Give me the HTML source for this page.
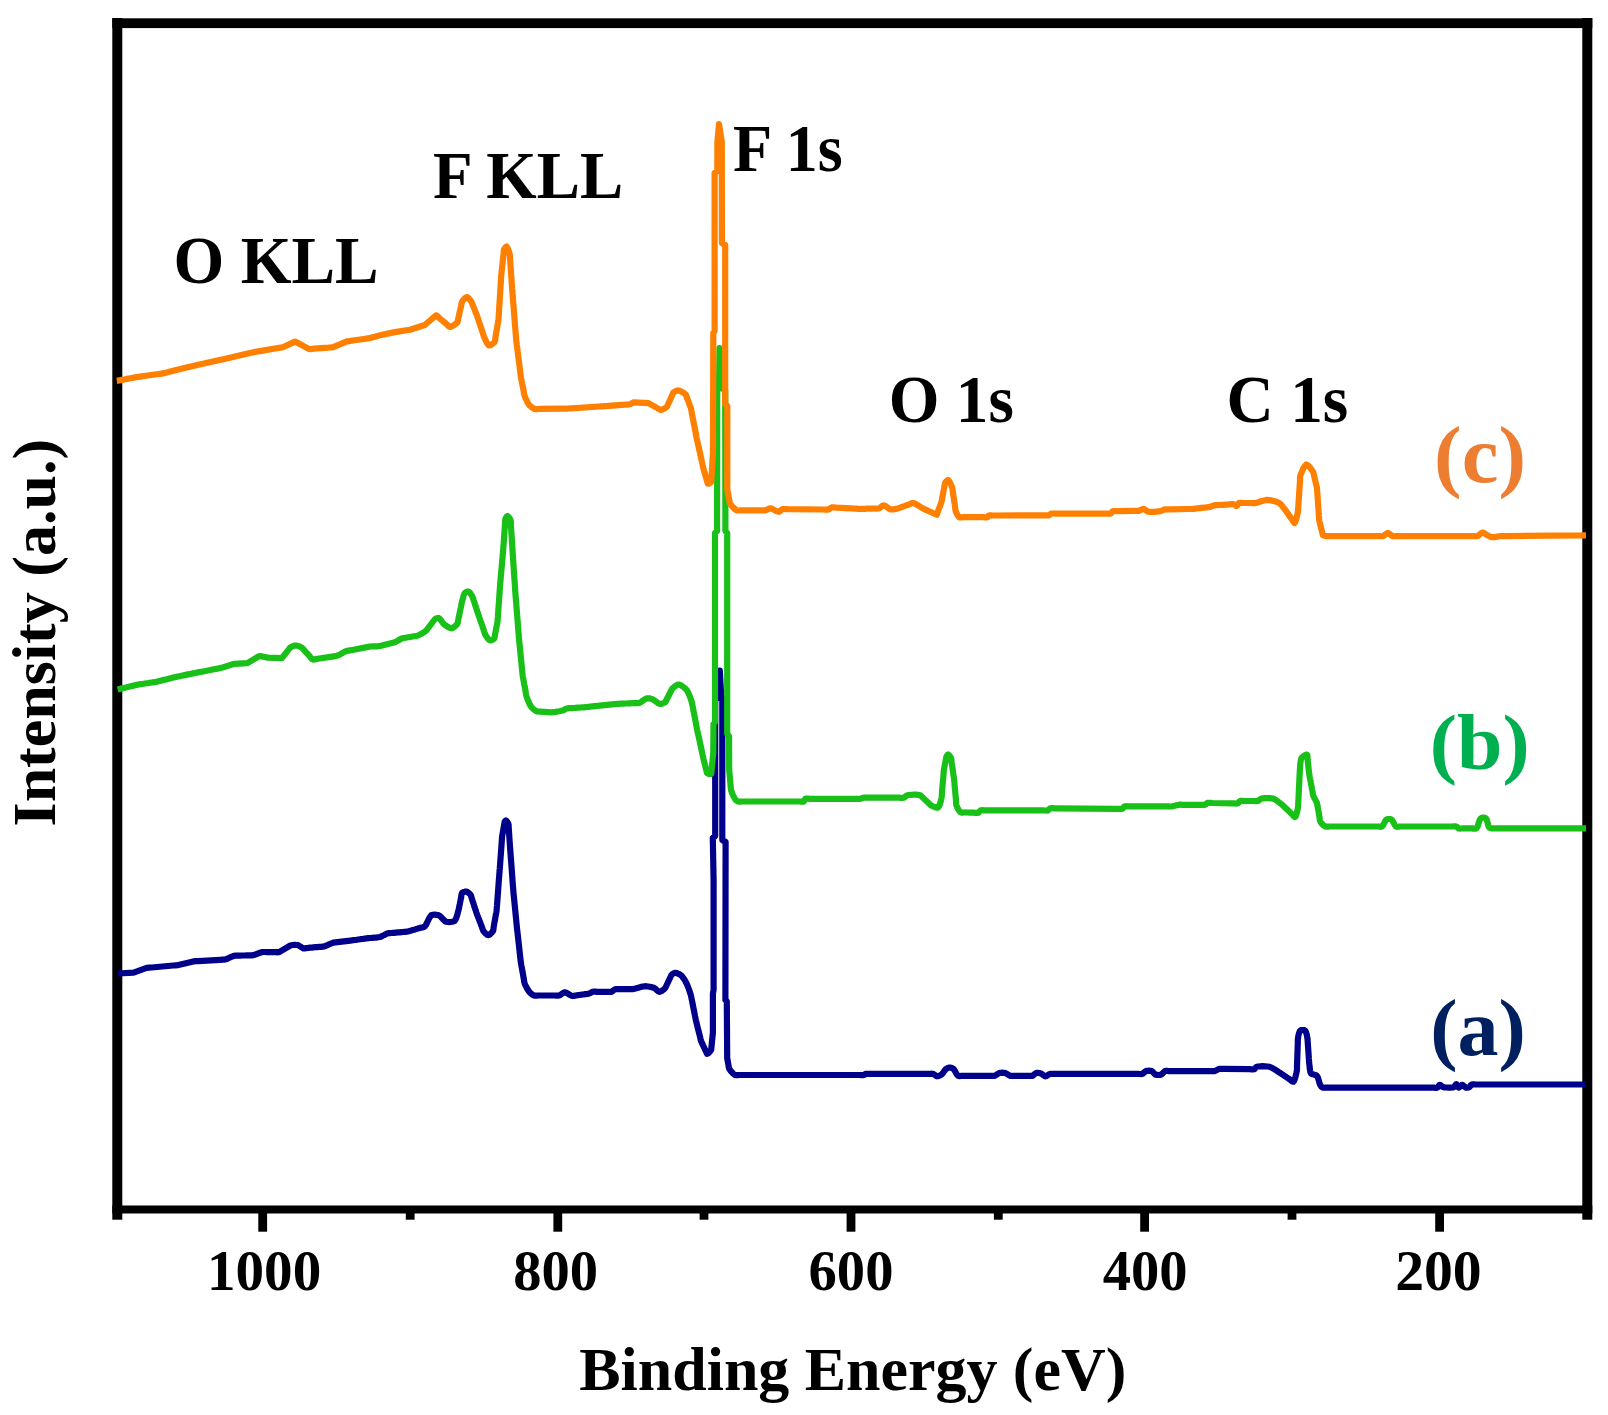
<!DOCTYPE html>
<html lang="en">
<head>
<meta charset="utf-8">
<title>XPS survey spectra</title>
<style>
html,body{margin:0;padding:0;background:#fff;}
body{width:1608px;height:1415px;overflow:hidden;}
svg{display:block;filter:blur(0.6px);}
text{font-family:"Liberation Serif",serif;font-weight:bold;}

.crv{fill:none;stroke-linejoin:round;stroke-linecap:butt;}
</style>
</head>
<body>
<svg width="1608" height="1415" viewBox="0 0 1608 1415">
<rect x="0" y="0" width="1608" height="1415" fill="#ffffff"/>
<g id="frame" fill="#000">
<rect x="112.3" y="18.3" width="1480" height="9.8"/>
<rect x="112.3" y="18" width="10" height="1201.7"/>
<rect x="1582.3" y="18" width="10" height="1201.7"/>
<rect x="112.3" y="1205.5" width="1480" height="8"/>
<rect x="258.3" y="1209" width="8.8" height="22.7"/>
<rect x="553.4" y="1209" width="8.8" height="22.7"/>
<rect x="846.6" y="1209" width="8.8" height="22.7"/>
<rect x="1140.2" y="1209" width="8.8" height="22.7"/>
<rect x="1435.2" y="1209" width="8.8" height="22.7"/>
<rect x="405.8" y="1209" width="8.8" height="10.7"/>
<rect x="699.6" y="1209" width="8.8" height="10.7"/>
<rect x="993.9" y="1209" width="8.8" height="10.7"/>
<rect x="1287.6" y="1209" width="8.8" height="10.7"/>
</g>
<polyline class="crv" stroke="#00008b" stroke-width="6.2" points="117.7,973.5 133.6,972.6 146.6,967.9 147.5,967.8 148.3,967.7 149.0,967.6 149.8,967.6 150.6,967.5 151.6,967.5 173.4,965.5 174.4,965.5 175.2,965.4 176.0,965.4 176.7,965.3 177.5,965.2 178.4,965.1 193.3,961.4 194.2,961.3 195.0,961.2 195.8,961.2 196.5,961.2 197.3,961.1 198.3,961.1 220.0,959.8 221.0,959.8 221.8,959.7 222.6,959.7 223.4,959.7 224.1,959.6 225.0,959.5 226.5,959.0 228.0,958.4 229.6,957.6 231.3,956.9 232.8,956.3 234.3,955.8 235.2,955.7 236.0,955.6 236.8,955.6 237.6,955.6 238.4,955.7 239.3,955.6 240.7,955.6 242.1,955.5 243.7,955.5 245.2,955.5 246.6,955.4 248.0,955.4 248.9,955.3 249.7,955.4 250.5,955.4 251.3,955.3 252.1,955.3 253.0,955.2 254.5,954.8 256.0,954.3 257.6,953.6 259.3,953.0 260.8,952.5 262.3,952.1 263.2,952.0 264.0,952.0 264.8,952.0 265.6,952.0 266.4,952.1 267.3,952.1 268.4,952.1 269.5,952.1 270.7,952.1 271.9,952.1 273.0,952.1 274.1,952.1 275.0,952.1 275.8,952.2 276.6,952.2 277.4,952.3 278.2,952.2 279.1,952.1 290.3,945.5 291.6,945.2 292.9,945.0 294.2,944.9 295.4,944.9 296.6,945.0 297.8,945.1 298.8,945.5 299.7,946.1 300.7,946.7 301.6,947.4 302.5,947.9 303.4,948.3 304.2,948.4 305.0,948.3 305.8,948.2 306.6,948.1 307.5,948.0 308.4,947.9 310.0,947.7 311.8,947.6 313.6,947.4 315.5,947.2 317.3,947.1 318.9,946.9 319.8,946.9 320.6,946.8 321.4,946.8 322.2,946.7 323.0,946.7 323.9,946.5 325.3,946.0 326.8,945.4 328.3,944.7 329.9,944.0 331.5,943.3 333.2,942.7 348.1,940.9 349.0,940.8 349.8,940.7 350.6,940.6 351.4,940.5 352.2,940.3 353.1,940.2 354.7,940.0 356.5,939.8 358.4,939.5 360.3,939.2 362.1,939.0 363.7,938.8 364.6,938.7 365.4,938.5 366.2,938.4 367.0,938.3 367.8,938.2 368.7,938.1 370.4,938.0 372.3,937.8 374.3,937.7 376.3,937.6 378.2,937.3 380.0,937.0 381.3,936.5 382.6,935.8 383.9,935.2 385.1,934.5 386.3,933.9 387.5,933.4 388.3,933.2 389.1,933.1 389.9,933.1 390.7,933.0 391.6,933.0 392.5,932.9 394.1,932.8 395.9,932.6 397.7,932.4 399.6,932.3 401.4,932.1 403.0,932.0 403.9,931.9 404.8,931.8 405.6,931.8 406.4,931.7 407.2,931.6 408.0,931.5 408.8,931.3 409.6,931.1 410.4,930.8 411.1,930.6 412.0,930.3 412.8,930.1 413.9,929.7 415.2,929.4 416.4,929.0 417.6,928.6 418.9,928.3 420.0,927.9 420.9,927.7 421.7,927.6 422.5,927.4 423.3,927.2 424.0,926.9 424.8,926.5 425.9,925.0 426.9,923.0 427.9,920.8 429.0,918.6 430.1,916.7 431.3,915.3 432.5,914.9 433.7,914.7 435.0,914.7 436.3,914.8 437.6,915.0 438.8,915.3 440.1,916.1 441.3,917.3 442.5,918.6 443.7,919.9 444.9,921.0 446.2,921.8 447.6,922.0 449.0,922.1 450.6,922.0 452.0,921.8 453.4,921.4 454.6,920.9 455.5,919.6 456.3,917.9 456.9,916.0 457.5,914.1 457.9,912.2 458.4,910.6 458.6,909.7 458.8,908.9 459.0,908.1 459.1,907.4 459.3,906.6 459.4,905.7 459.7,904.5 460.0,903.1 460.2,901.8 460.5,900.4 460.8,899.0 461.1,897.8 461.2,896.9 461.3,896.0 461.4,895.1 461.6,894.3 461.8,893.6 462.1,892.9 462.7,892.5 463.3,892.2 464.0,891.9 464.8,891.7 465.5,891.5 466.2,891.5 467.0,891.8 467.7,892.2 468.5,892.8 469.2,893.4 469.9,894.0 470.5,894.7 470.9,895.4 471.1,896.1 471.4,896.9 471.6,897.7 471.8,898.6 472.1,899.4 472.6,901.0 473.2,902.7 473.8,904.5 474.3,906.3 474.9,908.0 475.4,909.6 475.7,910.4 476.0,911.2 476.2,912.0 476.5,912.8 476.7,913.5 477.0,914.3 477.3,915.1 477.6,915.8 477.9,916.6 478.2,917.4 478.5,918.1 478.8,919.0 479.3,920.1 479.7,921.4 480.3,922.7 480.8,924.0 481.2,925.3 481.7,926.4 482.0,927.3 482.3,928.1 482.5,928.9 482.8,929.6 483.1,930.4 483.5,931.1 484.2,931.9 484.9,932.8 485.7,933.6 486.6,934.3 487.4,934.9 488.2,935.2 489.0,934.9 489.9,934.3 490.7,933.6 491.6,932.8 492.3,931.9 492.9,931.1 493.2,930.3 493.4,929.6 493.5,928.8 493.6,928.0 493.7,927.1 493.8,926.2 494.1,924.5 494.4,922.7 494.8,920.9 495.1,919.0 495.4,917.2 495.7,915.5 495.9,914.6 496.0,913.8 496.2,913.0 496.3,912.2 496.5,911.4 496.6,910.6 496.7,909.8 496.7,909.1 496.8,908.3 496.8,907.5 496.9,906.6 497.0,905.6 499.0,878.3 499.1,877.3 499.2,876.4 499.2,875.6 499.3,874.9 499.3,874.1 499.4,873.3 499.5,872.5 499.5,871.7 499.6,871.0 499.6,870.2 499.7,869.3 499.8,868.3 501.8,841.0 501.9,840.0 501.9,839.2 502.0,838.4 502.0,837.7 502.1,836.9 502.2,836.0 504.6,822.0 504.8,821.6 505.0,821.3 505.2,821.0 505.4,820.8 505.7,820.6 505.9,820.5 506.3,820.8 506.8,821.3 507.2,821.9 507.7,822.6 508.1,823.3 508.4,824.0 508.6,824.7 508.6,825.5 508.7,826.3 508.7,827.1 508.7,828.0 508.8,829.0 510.2,849.6 510.3,850.6 510.4,851.5 510.4,852.3 510.5,853.0 510.5,853.8 510.6,854.6 510.7,855.4 510.7,856.2 510.8,856.9 510.8,857.7 510.9,858.6 511.0,859.6 513.0,886.9 513.1,887.9 513.2,888.8 513.2,889.6 513.3,890.3 513.3,891.1 513.4,891.9 513.5,892.7 513.5,893.4 513.6,894.2 513.7,895.0 513.8,895.9 513.9,896.9 516.6,924.3 516.7,925.3 516.8,926.2 516.9,927.0 516.9,927.8 517.0,928.5 517.1,929.3 517.2,930.1 517.3,930.9 517.4,931.6 517.5,932.4 517.6,933.3 517.7,934.3 520.3,957.8 520.4,958.8 520.5,959.7 520.6,960.5 520.7,961.2 520.8,962.0 520.9,962.8 521.0,963.6 521.2,964.4 521.3,965.2 521.5,966.0 521.6,966.8 521.8,967.7 522.1,969.4 522.4,971.2 522.8,973.1 523.1,975.0 523.4,976.8 523.7,978.5 523.9,979.4 524.0,980.2 524.1,981.0 524.2,981.8 524.4,982.6 524.6,983.4 525.2,984.8 525.9,986.2 526.7,987.7 527.5,989.2 528.4,990.6 529.3,991.8 530.0,992.6 530.8,993.3 531.5,993.9 532.3,994.6 533.1,995.1 533.9,995.5 534.7,995.6 535.5,995.7 536.2,995.7 537.1,995.6 537.9,995.5 538.9,995.5 554.1,995.5 555.1,995.5 555.9,995.6 556.7,995.6 557.5,995.6 558.3,995.6 559.1,995.5 560.0,995.1 560.9,994.5 561.9,993.8 562.8,993.1 563.7,992.6 564.7,992.3 565.9,992.6 567.2,993.2 568.5,994.0 569.7,994.8 571.0,995.5 572.2,996.0 573.0,996.0 573.9,995.9 574.7,995.8 575.5,995.6 576.3,995.4 577.1,995.3 578.3,995.1 579.4,995.0 580.6,994.8 581.8,994.6 582.9,994.5 584.1,994.3 584.9,994.2 585.8,994.1 586.6,994.0 587.4,993.9 588.2,993.8 589.0,993.6 589.6,993.3 590.3,993.0 590.8,992.7 591.4,992.3 592.1,992.0 592.7,991.8 593.5,991.7 594.3,991.7 595.1,991.7 595.9,991.7 596.8,991.8 597.7,991.8 599.1,991.8 600.5,991.8 602.0,991.8 603.5,991.8 604.9,991.8 606.3,991.8 607.2,991.8 608.1,991.9 608.9,991.9 609.7,991.9 610.5,991.9 611.3,991.8 612.0,991.5 612.6,991.0 613.2,990.6 613.8,990.1 614.4,989.6 615.1,989.3 615.9,989.2 616.7,989.1 617.5,989.1 618.3,989.2 619.2,989.2 620.1,989.2 621.5,989.2 622.9,989.2 624.4,989.1 625.9,989.1 627.3,989.1 628.7,989.1 629.6,989.1 630.4,989.1 631.2,989.1 632.0,989.1 632.8,989.1 633.7,989.0 635.4,988.6 637.2,988.1 639.1,987.5 641.1,986.9 643.0,986.5 644.9,986.2 646.5,986.3 648.1,986.5 649.7,986.8 651.3,987.1 652.8,987.5 654.2,988.0 655.2,988.6 656.1,989.4 656.9,990.2 657.8,991.0 658.6,991.6 659.5,991.9 660.5,991.6 661.5,991.1 662.5,990.4 663.5,989.6 664.5,988.7 665.4,987.7 671.4,975.0 672.1,974.4 672.7,973.9 673.4,973.5 674.1,973.2 674.9,972.9 675.6,972.8 676.6,973.0 677.6,973.4 678.6,973.9 679.7,974.4 680.7,975.1 681.6,975.8 682.5,976.9 683.4,978.1 684.3,979.3 685.1,980.7 685.8,982.1 686.6,983.5 687.4,985.4 688.2,987.4 689.0,989.5 689.7,991.6 690.3,993.5 690.9,995.3 691.1,996.2 691.3,997.0 691.4,997.7 691.6,998.5 691.7,999.3 691.9,1000.2 695.0,1015.9 695.2,1016.8 695.4,1017.7 695.5,1018.5 695.7,1019.2 695.8,1020.0 696.0,1020.8 696.2,1021.6 696.4,1022.4 696.6,1023.1 696.8,1023.9 697.0,1024.8 697.2,1025.6 697.6,1027.3 698.1,1029.1 698.5,1030.9 699.0,1032.8 699.5,1034.6 699.9,1036.3 700.1,1037.1 700.3,1037.9 700.4,1038.7 700.6,1039.4 700.8,1040.2 701.1,1041.1 707.0,1053.8 707.7,1053.6 708.5,1053.1 709.2,1052.4 709.9,1051.5 710.6,1050.6 711.2,1049.6 712.9,1032.6 712.9,993.6 713.6,990.0 713.6,880.0 712.8,838.0 715.2,836.0 715.2,699.0 719.3,696.5 719.8,670.5 721.2,696.0 722.3,698.0 722.3,840.0 725.6,842.0 725.4,1000.0 726.8,1001.3 727.2,1058.1 729.0,1068.3 729.8,1069.6 730.7,1070.9 731.8,1072.1 732.8,1073.3 733.9,1074.2 735.0,1075.0 735.8,1075.2 736.5,1075.2 737.2,1075.2 738.0,1075.1 738.9,1075.0 740.0,1075.0 858.9,1075.0 860.0,1075.0 861.0,1075.1 861.8,1075.1 862.6,1075.1 863.2,1075.1 863.9,1075.0 864.2,1074.8 864.5,1074.7 864.8,1074.4 865.0,1074.2 865.3,1074.1 865.6,1073.9 866.3,1073.8 867.0,1073.8 867.7,1073.8 868.6,1073.8 869.5,1073.9 870.6,1073.9 928.3,1073.9 929.4,1073.9 930.3,1073.8 931.1,1073.8 931.9,1073.7 932.6,1073.8 933.3,1073.9 933.9,1074.2 934.5,1074.7 935.1,1075.2 935.6,1075.6 936.2,1076.0 936.8,1076.3 937.5,1076.2 938.3,1076.1 939.1,1075.8 939.9,1075.4 940.7,1075.0 941.5,1074.6 942.3,1073.8 943.2,1072.7 943.9,1071.6 944.7,1070.5 945.5,1069.5 946.3,1068.7 946.9,1068.4 947.5,1068.1 948.0,1067.9 948.6,1067.7 949.2,1067.6 949.8,1067.5 950.4,1067.6 951.0,1067.7 951.6,1067.9 952.1,1068.1 952.7,1068.4 953.3,1068.7 954.1,1069.7 954.9,1070.9 955.6,1072.3 956.4,1073.7 957.2,1074.9 958.1,1075.8 958.8,1076.0 959.6,1076.1 960.4,1076.0 961.2,1075.9 962.1,1075.8 963.1,1075.8 989.7,1075.8 990.7,1075.8 991.6,1075.9 992.4,1075.9 993.2,1075.9 993.9,1075.9 994.7,1075.8 995.5,1075.4 996.3,1074.9 997.0,1074.4 997.8,1073.9 998.6,1073.4 999.4,1073.0 1000.3,1072.8 1001.3,1072.8 1002.3,1072.7 1003.4,1072.8 1004.3,1072.8 1005.3,1073.0 1006.1,1073.4 1006.9,1073.9 1007.7,1074.4 1008.5,1074.9 1009.3,1075.4 1010.1,1075.8 1010.9,1075.9 1011.7,1075.9 1012.5,1075.9 1013.3,1075.9 1014.2,1075.8 1015.1,1075.8 1017.0,1075.8 1019.1,1075.8 1021.3,1075.8 1023.5,1075.8 1025.6,1075.8 1027.5,1075.8 1028.4,1075.8 1029.3,1075.9 1030.2,1075.9 1031.0,1076.0 1031.7,1075.9 1032.5,1075.8 1033.1,1075.4 1033.7,1074.9 1034.3,1074.4 1034.9,1073.8 1035.5,1073.4 1036.1,1073.0 1036.8,1072.9 1037.6,1072.9 1038.4,1072.9 1039.2,1073.1 1040.0,1073.2 1040.8,1073.4 1041.6,1073.8 1042.4,1074.4 1043.2,1075.0 1043.9,1075.6 1044.7,1076.0 1045.5,1076.3 1046.3,1076.1 1047.0,1075.7 1047.8,1075.2 1048.6,1074.7 1049.4,1074.2 1050.2,1073.9 1051.0,1073.8 1051.7,1073.8 1052.4,1073.8 1053.2,1073.8 1054.1,1073.9 1055.2,1073.9 1137.4,1073.9 1138.5,1073.9 1139.4,1074.0 1140.2,1074.0 1141.0,1074.1 1141.7,1074.0 1142.4,1073.9 1143.0,1073.5 1143.6,1073.0 1144.1,1072.5 1144.7,1072.0 1145.3,1071.5 1145.9,1071.1 1146.8,1070.9 1147.8,1070.8 1148.9,1070.7 1150.0,1070.8 1151.0,1070.9 1151.9,1071.1 1152.5,1071.6 1153.1,1072.2 1153.7,1072.9 1154.2,1073.5 1154.8,1074.1 1155.4,1074.6 1156.3,1074.8 1157.3,1074.9 1158.3,1075.0 1159.4,1074.9 1160.4,1074.8 1161.3,1074.6 1162.0,1074.1 1162.6,1073.5 1163.1,1072.8 1163.7,1072.2 1164.3,1071.6 1164.9,1071.1 1165.6,1070.9 1166.4,1070.9 1167.1,1070.9 1167.9,1071.0 1168.8,1071.1 1169.9,1071.1 1209.5,1071.1 1210.5,1071.1 1211.4,1071.2 1212.2,1071.2 1213.0,1071.2 1213.7,1071.2 1214.5,1071.1 1215.3,1070.8 1216.1,1070.4 1216.9,1070.0 1217.6,1069.6 1218.4,1069.2 1219.2,1068.9 1220.0,1068.8 1220.7,1068.8 1221.5,1068.8 1222.3,1068.9 1223.2,1068.9 1224.2,1068.9 1249.3,1069.2 1250.3,1069.2 1251.2,1069.3 1252.1,1069.3 1252.9,1069.4 1253.6,1069.3 1254.3,1069.2 1254.7,1068.9 1255.1,1068.5 1255.4,1068.0 1255.7,1067.6 1256.1,1067.1 1256.6,1066.8 1258.3,1066.5 1260.4,1066.3 1262.7,1066.2 1265.1,1066.3 1267.5,1066.5 1269.6,1066.8 1271.3,1067.5 1273.0,1068.4 1274.6,1069.4 1276.2,1070.4 1277.7,1071.4 1279.1,1072.3 1279.9,1072.8 1280.6,1073.2 1281.2,1073.7 1281.9,1074.1 1282.6,1074.6 1283.3,1075.1 1284.2,1075.7 1285.2,1076.3 1286.2,1077.0 1287.2,1077.7 1288.2,1078.3 1289.1,1078.9 1289.9,1079.5 1290.6,1080.1 1291.3,1080.7 1292.0,1081.2 1292.7,1081.6 1293.3,1081.7 1294.1,1080.7 1294.8,1079.0 1295.4,1077.1 1295.9,1074.9 1296.4,1072.9 1296.8,1071.1 1296.9,1070.2 1297.0,1069.4 1297.0,1068.7 1297.0,1067.9 1297.0,1067.1 1297.0,1066.1 1297.8,1043.0 1297.8,1042.0 1297.8,1041.2 1297.8,1040.4 1297.9,1039.6 1297.9,1038.8 1298.0,1038.0 1298.2,1036.7 1298.5,1035.3 1298.8,1033.9 1299.2,1032.6 1299.7,1031.4 1300.3,1030.5 1301.0,1030.2 1301.8,1030.1 1302.7,1030.0 1303.6,1030.1 1304.4,1030.2 1305.1,1030.5 1305.7,1031.4 1306.2,1032.6 1306.5,1033.9 1306.9,1035.3 1307.1,1036.7 1307.4,1038.0 1307.5,1038.8 1307.6,1039.6 1307.6,1040.4 1307.7,1041.2 1307.7,1042.0 1307.8,1043.0 1308.9,1059.0 1309.0,1060.0 1309.0,1060.8 1309.1,1061.6 1309.1,1062.3 1309.2,1063.1 1309.3,1064.0 1309.5,1065.5 1309.6,1067.2 1309.8,1068.9 1310.1,1070.6 1310.4,1072.1 1311.0,1073.4 1311.8,1074.0 1312.8,1074.3 1313.9,1074.6 1315.0,1074.9 1316.0,1075.2 1316.9,1075.8 1317.7,1077.1 1318.3,1078.8 1318.8,1080.5 1319.3,1082.3 1319.8,1084.0 1320.4,1085.3 1320.8,1085.8 1321.1,1086.3 1321.5,1086.7 1321.9,1087.0 1322.3,1087.3 1322.8,1087.6 1323.5,1087.7 1324.2,1087.8 1324.9,1087.7 1325.7,1087.7 1326.7,1087.6 1327.8,1087.6 1432.4,1087.6 1433.5,1087.6 1434.5,1087.7 1435.3,1087.8 1436.0,1087.8 1436.7,1087.8 1437.4,1087.6 1437.9,1087.2 1438.3,1086.7 1438.6,1086.1 1439.0,1085.5 1439.4,1085.1 1439.8,1084.8 1440.3,1085.0 1440.8,1085.3 1441.4,1085.8 1442.0,1086.3 1442.6,1086.7 1443.3,1087.1 1444.9,1087.4 1446.8,1087.5 1448.8,1087.6 1450.7,1087.6 1452.5,1087.4 1454.0,1087.1 1454.5,1086.6 1454.9,1086.1 1455.3,1085.4 1455.6,1084.8 1455.9,1084.4 1456.3,1084.1 1456.7,1084.4 1457.1,1085.1 1457.5,1085.8 1457.8,1086.6 1458.3,1087.2 1458.7,1087.6 1459.2,1087.4 1459.8,1086.9 1460.4,1086.2 1461.0,1085.6 1461.6,1085.1 1462.2,1084.8 1462.8,1085.1 1463.4,1085.5 1464.0,1086.1 1464.6,1086.7 1465.2,1087.2 1465.8,1087.6 1466.4,1087.7 1467.0,1087.6 1467.6,1087.6 1468.2,1087.5 1468.8,1087.3 1469.3,1087.1 1469.7,1086.7 1470.1,1086.3 1470.5,1085.8 1470.8,1085.3 1471.2,1084.8 1471.7,1084.5 1472.4,1084.4 1473.1,1084.3 1473.8,1084.3 1474.6,1084.4 1475.6,1084.5 1476.7,1084.5 1581.0,1084.5 1582.1,1084.5 1583.0,1084.5 1583.8,1084.5 1584.5,1084.5 1585.2,1084.5 1586.0,1084.5"/>
<polyline class="crv" stroke="#18c018" stroke-width="6.2" points="117.7,689.4 118.5,689.2 119.3,689.0 120.1,688.8 120.8,688.6 121.7,688.4 122.6,688.2 124.1,687.9 125.8,687.5 127.5,687.1 129.2,686.6 130.9,686.2 132.4,685.9 133.3,685.7 134.2,685.4 134.9,685.2 135.7,685.1 136.5,684.9 137.3,684.7 138.1,684.6 138.9,684.4 139.7,684.3 140.5,684.2 141.4,684.1 142.2,684.0 143.6,683.8 145.1,683.5 146.6,683.3 148.2,683.1 149.7,682.8 151.1,682.6 151.9,682.5 152.8,682.4 153.6,682.3 154.4,682.2 155.2,682.0 156.0,681.9 156.8,681.7 157.6,681.5 158.4,681.3 159.2,681.1 160.0,680.9 160.8,680.7 162.2,680.3 163.7,679.9 165.3,679.6 166.9,679.2 168.4,678.8 169.8,678.4 170.6,678.2 171.4,678.0 172.2,677.8 173.0,677.6 173.8,677.4 174.6,677.2 175.4,677.0 176.2,676.9 176.9,676.7 177.7,676.5 178.6,676.4 179.5,676.2 181.4,675.8 183.5,675.4 185.8,674.9 188.1,674.4 190.2,674.0 192.1,673.6 193.0,673.4 193.9,673.2 194.7,673.1 195.4,672.9 196.2,672.8 197.0,672.6 197.8,672.4 198.6,672.3 199.3,672.1 200.1,672.0 201.0,671.8 201.9,671.7 216.4,668.8 217.3,668.7 218.1,668.5 218.9,668.4 219.6,668.3 220.4,668.1 221.3,667.9 234.3,663.8 247.4,663.2 258.6,656.3 260.1,656.2 261.7,656.4 263.2,656.7 264.7,657.0 266.3,657.4 267.9,657.6 281.9,658.2 290.3,647.4 291.2,646.9 292.2,646.4 293.1,646.1 294.0,645.8 295.0,645.6 295.9,645.5 296.9,645.6 297.8,645.9 298.8,646.2 299.7,646.5 300.7,647.0 301.5,647.4 302.1,647.9 302.7,648.5 303.3,649.1 303.8,649.8 304.3,650.4 304.9,651.1 305.6,651.8 306.3,652.6 307.1,653.4 307.9,654.3 308.6,655.1 309.3,655.8 309.9,656.5 310.4,657.2 311.0,657.9 311.5,658.5 312.1,659.1 312.7,659.5 313.4,659.6 314.2,659.5 315.0,659.3 315.8,659.1 316.7,658.9 317.6,658.7 332.0,656.6 332.9,656.4 333.7,656.3 334.5,656.3 335.3,656.2 336.0,656.0 336.9,655.8 338.4,655.2 340.0,654.4 341.6,653.5 343.2,652.6 344.8,651.7 346.3,651.1 347.2,650.9 347.9,650.7 348.7,650.6 349.5,650.5 350.3,650.3 351.2,650.2 365.6,647.4 366.5,647.3 367.3,647.1 368.1,646.9 368.8,646.8 369.6,646.6 370.5,646.5 371.9,646.4 373.4,646.3 375.0,646.3 376.6,646.3 378.3,646.2 380.0,646.0 394.9,642.3 396.3,641.6 397.5,640.9 398.6,640.2 399.8,639.5 401.0,638.8 402.4,638.2 417.3,635.8 419.0,635.0 420.6,634.2 422.2,633.3 423.7,632.4 425.2,631.3 426.6,630.2 435.0,619.0 435.7,618.7 436.3,618.4 436.9,618.2 437.5,618.1 438.2,618.0 438.8,618.1 439.7,618.8 440.6,619.8 441.5,621.0 442.4,622.3 443.4,623.6 444.4,624.6 445.6,625.4 446.8,626.2 448.1,627.0 449.4,627.6 450.6,628.1 451.8,628.3 452.8,627.9 453.9,627.2 454.9,626.4 455.8,625.5 456.7,624.6 457.4,623.7 457.7,622.9 457.9,622.2 458.0,621.4 458.1,620.6 458.3,619.7 458.4,618.8 458.8,616.9 459.3,614.8 459.8,612.5 460.2,610.2 460.7,608.1 461.1,606.2 461.3,605.3 461.4,604.5 461.6,603.7 461.7,602.9 461.9,602.1 462.1,601.3 462.5,599.9 462.9,598.4 463.3,596.8 463.7,595.3 464.3,594.0 464.9,592.9 465.5,592.5 466.1,592.1 466.7,591.8 467.4,591.6 468.0,591.5 468.6,591.5 469.3,592.0 470.0,592.8 470.6,593.7 471.3,594.7 471.9,595.7 472.4,596.6 472.7,597.4 473.0,598.1 473.2,598.9 473.5,599.7 473.7,600.5 474.0,601.3 474.5,602.9 475.1,604.6 475.7,606.4 476.2,608.2 476.8,609.9 477.3,611.5 477.6,612.3 477.9,613.1 478.1,613.9 478.4,614.7 478.6,615.4 478.9,616.2 479.2,617.0 479.4,617.7 479.7,618.5 480.0,619.3 480.2,620.1 480.5,620.9 481.0,622.4 481.6,623.9 482.2,625.5 482.7,627.2 483.3,628.7 483.8,630.2 484.0,631.0 484.3,631.8 484.5,632.6 484.8,633.4 485.0,634.1 485.4,634.9 486.0,635.9 486.8,637.0 487.6,638.1 488.4,639.1 489.3,639.9 490.1,640.4 490.8,640.4 491.5,640.2 492.3,639.9 493.0,639.5 493.6,639.1 494.2,638.6 494.5,637.9 494.7,637.2 494.8,636.3 494.9,635.5 495.0,634.6 495.2,633.7 495.4,632.6 495.6,631.4 495.9,630.2 496.1,629.0 496.3,627.8 496.5,626.7 496.7,625.9 496.9,625.0 497.1,624.2 497.2,623.4 497.4,622.6 497.5,621.8 497.6,621.0 497.6,620.3 497.7,619.5 497.7,618.7 497.8,617.8 497.9,616.8 499.9,587.6 500.0,586.6 500.1,585.7 500.1,584.9 500.2,584.1 500.2,583.4 500.3,582.6 500.4,581.8 500.4,581.0 500.5,580.3 500.6,579.5 500.7,578.6 500.7,577.6 502.7,555.9 502.7,554.9 502.8,554.0 502.9,553.2 503.0,552.5 503.0,551.7 503.1,550.9 503.2,550.1 503.2,549.3 503.3,548.6 503.3,547.8 503.4,546.9 503.5,545.9 505.0,524.0 505.1,523.0 505.1,522.1 505.1,521.3 505.2,520.5 505.2,519.7 505.4,519.0 505.7,518.4 506.0,517.8 506.3,517.2 506.7,516.6 507.0,516.2 507.4,516.0 507.9,516.3 508.5,516.9 509.1,517.6 509.7,518.4 510.2,519.3 510.6,520.1 510.8,520.9 510.9,521.6 510.9,522.4 510.9,523.2 510.9,524.1 510.9,525.1 512.5,549.6 512.5,550.6 512.6,551.5 512.7,552.3 512.7,553.0 512.7,553.8 512.8,554.6 512.9,555.4 512.9,556.2 513.0,556.9 513.0,557.7 513.1,558.6 513.1,559.6 515.0,586.9 515.0,587.9 515.1,588.8 515.1,589.6 515.2,590.3 515.2,591.1 515.3,591.9 515.4,592.7 515.4,593.4 515.5,594.2 515.5,595.0 515.6,595.9 515.7,596.9 518.6,633.6 518.7,634.6 518.8,635.5 518.8,636.3 518.9,637.1 518.9,637.8 519.0,638.6 519.1,639.4 519.1,640.1 519.2,640.9 519.3,641.7 519.4,642.6 519.5,643.6 522.2,670.9 522.3,671.9 522.4,672.8 522.5,673.6 522.5,674.4 522.6,675.1 522.7,675.9 522.8,676.7 523.0,677.5 523.1,678.3 523.3,679.1 523.4,679.9 523.6,680.8 523.9,682.5 524.2,684.3 524.6,686.1 525.0,688.0 525.3,689.8 525.6,691.5 525.7,692.4 525.9,693.2 526.0,694.0 526.1,694.7 526.3,695.5 526.5,696.4 527.1,698.0 527.7,699.8 528.5,701.6 529.3,703.5 530.2,705.2 531.1,706.7 531.9,707.6 532.8,708.5 533.6,709.3 534.6,710.0 535.6,710.7 536.7,711.3 551.6,712.3 553.6,712.1 555.6,711.9 557.6,711.5 559.5,711.2 561.2,710.8 562.8,710.4 563.5,710.1 564.2,709.8 564.8,709.4 565.4,709.1 566.0,708.8 566.6,708.5 567.4,708.4 568.2,708.3 569.0,708.2 569.8,708.2 570.7,708.2 571.6,708.2 572.9,708.1 574.4,708.0 575.9,707.8 577.4,707.7 578.9,707.6 580.2,707.5 581.1,707.5 582.0,707.4 582.8,707.4 583.6,707.3 584.4,707.3 585.2,707.2 586.0,707.1 586.8,707.0 587.5,707.0 588.3,706.9 589.2,706.8 590.2,706.7 611.9,704.4 612.9,704.3 613.8,704.2 614.6,704.1 615.3,704.0 616.1,704.0 616.9,703.9 617.7,703.9 618.5,703.8 619.3,703.8 620.1,703.7 621.0,703.7 621.9,703.7 623.8,703.6 625.9,703.5 628.1,703.4 630.3,703.3 632.4,703.2 634.3,703.1 635.2,703.1 636.1,703.1 636.9,703.1 637.7,703.1 638.5,703.1 639.3,702.9 640.5,702.3 641.8,701.5 643.0,700.5 644.3,699.6 645.6,698.8 646.8,698.3 647.7,698.3 648.7,698.3 649.6,698.4 650.5,698.6 651.5,698.9 652.4,699.2 653.6,699.9 654.9,700.8 656.2,701.7 657.4,702.7 658.7,703.4 659.9,703.9 660.8,703.8 661.8,703.7 662.7,703.4 663.6,703.0 664.5,702.6 665.4,702.0 672.0,689.0 673.0,688.0 674.1,687.0 675.3,686.1 676.4,685.4 677.5,684.8 678.7,684.5 680.0,684.9 681.4,685.6 682.8,686.5 684.1,687.6 685.4,688.7 686.6,689.9 687.7,691.7 688.7,693.7 689.6,695.8 690.4,697.9 691.1,700.0 691.7,701.8 691.9,702.7 692.1,703.4 692.2,704.2 692.4,704.9 692.5,705.8 692.7,706.7 696.7,727.4 696.9,728.4 697.1,729.2 697.2,730.0 697.4,730.8 697.5,731.5 697.7,732.3 697.9,733.1 698.0,733.8 698.2,734.6 698.4,735.4 698.6,736.2 698.8,737.2 702.5,754.5 702.7,755.4 702.9,756.2 703.1,757.0 703.2,757.7 703.4,758.5 703.6,759.4 707.0,773.0 707.6,773.4 708.4,773.7 709.1,773.9 709.9,774.0 710.6,774.0 711.2,773.8 713.3,752.6 713.5,724.0 715.0,722.0 715.0,533.0 717.1,531.0 717.2,391.0 719.0,388.0 719.5,348.0 720.6,370.0 720.8,388.0 725.2,390.0 725.4,531.0 727.2,533.0 727.2,734.0 729.0,736.0 729.2,770.0 731.0,790.0 731.6,791.7 732.2,793.4 732.9,795.0 733.6,796.5 734.3,797.8 735.0,799.0 735.5,799.5 735.9,800.0 736.4,800.5 736.9,800.9 737.4,801.2 738.0,801.5 738.7,801.6 739.4,801.7 740.2,801.6 741.0,801.6 741.9,801.5 743.0,801.5 798.7,801.5 799.8,801.5 800.8,801.6 801.6,801.7 802.4,801.7 803.1,801.7 803.7,801.5 804.1,801.1 804.3,800.7 804.5,800.1 804.8,799.6 805.0,799.2 805.4,798.8 806.1,798.6 806.8,798.6 807.5,798.6 808.4,798.7 809.3,798.8 810.4,798.8 855.5,798.8 856.6,798.8 857.5,798.8 858.3,798.9 859.0,798.9 859.8,798.9 860.5,798.8 861.0,798.7 861.5,798.5 862.0,798.2 862.5,798.0 863.0,797.8 863.5,797.7 864.2,797.6 865.0,797.6 865.7,797.6 866.6,797.7 867.5,797.7 868.5,797.7 898.7,797.7 899.7,797.7 900.6,797.8 901.5,797.8 902.2,797.8 903.0,797.8 903.7,797.7 904.3,797.4 904.9,797.0 905.4,796.5 906.0,796.1 906.6,795.6 907.3,795.3 909.1,795.0 911.2,794.8 913.5,794.6 915.9,794.6 918.2,794.9 920.3,795.3 930.9,805.2 932.1,805.9 933.4,806.5 934.6,807.0 935.9,807.5 937.0,807.7 938.0,807.6 938.8,806.6 939.5,805.1 940.1,803.4 940.7,801.5 941.1,799.8 941.5,798.2 941.6,797.3 941.7,796.6 941.8,795.8 941.8,795.0 941.9,794.2 941.9,793.2 943.5,774.8 943.6,773.8 943.6,773.0 943.7,772.2 943.7,771.5 943.8,770.7 943.9,769.8 946.3,757.0 946.6,756.4 946.9,755.9 947.2,755.4 947.5,755.0 947.8,754.7 948.1,754.5 948.6,754.8 949.1,755.2 949.6,755.9 950.1,756.6 950.6,757.3 951.0,758.0 951.2,758.8 951.4,759.5 951.5,760.3 951.5,761.1 951.6,762.0 951.7,762.9 952.0,764.7 952.3,766.6 952.6,768.7 952.8,770.7 953.1,772.6 953.4,774.4 953.5,775.3 953.6,776.1 953.8,776.9 953.9,777.7 954.0,778.5 954.1,779.3 954.2,780.1 954.3,780.9 954.3,781.7 954.4,782.5 954.5,783.3 954.5,784.3 956.0,800.2 956.0,801.2 956.1,802.0 956.1,802.8 956.1,803.6 956.2,804.4 956.4,805.2 956.9,806.4 957.4,807.7 958.1,809.1 958.8,810.3 959.6,811.4 960.4,812.3 961.2,812.5 961.9,812.6 962.8,812.6 963.6,812.5 964.5,812.5 965.4,812.4 966.6,812.5 968.0,812.5 969.3,812.6 970.6,812.6 972.0,812.6 973.2,812.7 974.1,812.7 975.0,812.8 975.9,812.9 976.7,812.9 977.5,812.9 978.2,812.8 978.6,812.5 979.0,812.1 979.3,811.6 979.7,811.1 980.1,810.7 980.5,810.4 981.2,810.3 981.9,810.2 982.6,810.2 983.5,810.3 984.4,810.4 985.5,810.4 1042.9,810.4 1044.0,810.4 1044.9,810.5 1045.8,810.5 1046.5,810.6 1047.2,810.5 1047.9,810.4 1048.3,810.1 1048.7,809.8 1049.1,809.3 1049.4,808.9 1049.8,808.6 1050.2,808.3 1050.9,808.2 1051.6,808.1 1052.3,808.2 1053.2,808.2 1054.1,808.3 1055.2,808.3 1117.3,808.8 1118.4,808.8 1119.3,808.9 1120.2,808.9 1120.9,809.0 1121.6,808.9 1122.3,808.8 1122.8,808.5 1123.1,808.1 1123.5,807.6 1123.9,807.1 1124.2,806.7 1124.7,806.4 1125.4,806.3 1126.1,806.2 1126.9,806.3 1127.7,806.3 1128.6,806.4 1129.7,806.4 1166.9,806.4 1167.9,806.4 1168.8,806.4 1169.6,806.5 1170.3,806.5 1171.1,806.5 1171.9,806.4 1173.0,806.2 1174.2,805.9 1175.5,805.6 1176.7,805.3 1177.9,805.0 1179.0,804.8 1179.8,804.7 1180.6,804.7 1181.4,804.7 1182.2,804.8 1183.1,804.8 1184.0,804.8 1200.0,804.8 1201.0,804.8 1201.9,804.9 1202.7,804.9 1203.5,805.0 1204.3,804.9 1205.0,804.8 1205.4,804.5 1205.8,804.2 1206.2,803.8 1206.6,803.5 1207.0,803.2 1207.4,802.9 1208.1,802.8 1208.9,802.8 1209.6,802.8 1210.5,802.9 1211.4,802.9 1212.4,803.0 1232.7,803.3 1233.7,803.4 1234.6,803.4 1235.5,803.5 1236.3,803.6 1237.0,803.5 1237.7,803.4 1238.2,803.1 1238.5,802.7 1238.9,802.2 1239.3,801.7 1239.6,801.3 1240.1,801.0 1240.8,800.9 1241.6,800.8 1242.4,800.9 1243.3,800.9 1244.2,801.0 1245.1,801.0 1246.3,801.0 1247.6,801.0 1248.9,801.0 1250.3,801.0 1251.6,801.0 1252.8,801.0 1253.7,801.0 1254.6,801.1 1255.4,801.1 1256.2,801.1 1257.0,801.1 1257.8,801.0 1258.4,800.7 1259.0,800.3 1259.5,799.8 1260.1,799.4 1260.7,798.9 1261.4,798.6 1263.1,798.3 1265.0,798.1 1267.1,798.1 1269.2,798.1 1271.3,798.3 1273.2,798.6 1274.9,799.4 1276.6,800.5 1278.2,801.7 1279.8,802.9 1281.3,804.1 1282.6,805.2 1283.3,805.8 1283.9,806.4 1284.5,806.9 1285.0,807.5 1285.6,808.1 1286.2,808.6 1287.1,809.4 1287.9,810.3 1288.8,811.1 1289.8,812.0 1290.6,812.9 1291.5,813.7 1292.1,814.3 1292.8,815.1 1293.4,815.8 1294.0,816.4 1294.6,816.9 1295.1,817.1 1295.7,816.2 1296.3,814.8 1296.8,813.0 1297.3,811.1 1297.7,809.2 1298.0,807.6 1298.1,806.7 1298.2,806.0 1298.2,805.2 1298.2,804.5 1298.2,803.6 1298.3,802.6 1299.6,774.8 1299.7,773.8 1299.7,773.0 1299.8,772.2 1299.8,771.5 1299.8,770.7 1299.9,769.8 1300.0,768.0 1300.2,765.9 1300.3,763.8 1300.6,761.6 1300.9,759.7 1301.5,758.0 1302.3,757.1 1303.3,756.3 1304.3,755.6 1305.4,755.0 1306.3,754.6 1307.0,754.5 1307.3,755.0 1307.4,755.7 1307.5,756.6 1307.5,757.5 1307.5,758.5 1307.6,759.5 1307.8,761.0 1307.9,762.7 1308.1,764.5 1308.4,766.3 1308.5,768.0 1308.7,769.5 1308.8,770.4 1308.9,771.3 1309.0,772.1 1309.1,772.9 1309.2,773.7 1309.3,774.5 1309.4,775.3 1309.6,776.1 1309.7,776.9 1309.9,777.7 1310.0,778.5 1310.2,779.4 1310.6,781.2 1310.9,783.1 1311.3,785.1 1311.7,787.2 1312.0,789.1 1312.4,790.9 1312.5,791.8 1312.7,792.6 1312.8,793.4 1312.9,794.2 1313.1,795.0 1313.3,795.8 1313.8,796.9 1314.4,798.1 1315.1,799.3 1315.8,800.6 1316.4,801.8 1316.9,802.9 1317.1,803.7 1317.3,804.5 1317.4,805.3 1317.5,806.1 1317.7,806.9 1317.8,807.8 1318.1,809.2 1318.4,810.8 1318.7,812.4 1318.9,813.9 1319.2,815.5 1319.5,816.9 1319.6,817.8 1319.7,818.6 1319.8,819.4 1319.9,820.2 1320.1,821.0 1320.4,821.8 1321.0,822.7 1321.7,823.6 1322.6,824.4 1323.4,825.2 1324.3,825.9 1325.2,826.5 1326.0,826.7 1326.7,826.7 1327.4,826.7 1328.2,826.6 1329.1,826.5 1330.2,826.5 1376.9,826.5 1378.0,826.5 1378.9,826.6 1379.7,826.7 1380.4,826.8 1381.2,826.7 1381.9,826.5 1382.8,825.6 1383.5,824.4 1384.3,822.9 1385.0,821.5 1385.8,820.3 1386.6,819.4 1387.3,819.2 1388.1,819.0 1388.9,819.0 1389.8,819.0 1390.6,819.2 1391.3,819.4 1392.2,820.3 1392.9,821.5 1393.7,822.9 1394.4,824.4 1395.2,825.6 1396.1,826.5 1396.8,826.7 1397.6,826.8 1398.3,826.7 1399.1,826.6 1400.0,826.5 1401.1,826.5 1451.3,826.5 1452.4,826.5 1453.3,826.4 1454.1,826.4 1454.9,826.3 1455.6,826.4 1456.3,826.5 1456.7,826.8 1457.1,827.1 1457.5,827.4 1457.9,827.8 1458.3,828.1 1458.7,828.4 1459.4,828.5 1460.2,828.6 1461.0,828.5 1461.9,828.5 1462.8,828.4 1463.7,828.4 1464.9,828.4 1466.2,828.4 1467.5,828.4 1468.9,828.4 1470.2,828.4 1471.4,828.4 1472.3,828.4 1473.2,828.6 1474.0,828.7 1474.9,828.7 1475.7,828.6 1476.4,828.4 1477.2,827.3 1477.8,825.8 1478.3,824.0 1478.9,822.3 1479.4,820.7 1480.0,819.4 1480.4,819.0 1480.7,818.6 1481.1,818.3 1481.5,818.0 1481.9,817.8 1482.3,817.6 1482.9,817.5 1483.5,817.5 1484.1,817.6 1484.7,817.7 1485.3,817.9 1485.9,818.2 1486.6,819.4 1487.1,821.0 1487.6,822.9 1488.1,824.8 1488.6,826.4 1489.4,827.7 1490.2,828.1 1491.1,828.3 1492.1,828.3 1493.1,828.4 1494.1,828.4 1495.0,828.4 1495.8,828.4 1496.5,828.4 1497.2,828.4 1498.0,828.4 1498.9,828.4 1500.0,828.4 1581.0,828.4 1582.1,828.4 1583.0,828.4 1583.8,828.4 1584.5,828.4 1585.2,828.4 1586.0,828.4"/>
<polyline class="crv" stroke="#ff8000" stroke-width="6.2" points="116.8,380.8 117.6,380.7 118.4,380.5 119.2,380.4 120.0,380.2 120.8,380.1 121.7,379.9 123.4,379.6 125.2,379.3 127.1,378.9 128.9,378.5 130.7,378.2 132.4,377.9 133.3,377.7 134.1,377.6 134.9,377.4 135.7,377.3 136.5,377.1 137.3,377.0 138.1,376.9 138.9,376.8 139.6,376.7 140.4,376.5 141.3,376.4 142.3,376.3 158.4,374.0 159.4,373.9 160.3,373.8 161.1,373.7 161.8,373.6 162.6,373.4 163.4,373.3 164.2,373.1 164.9,373.0 165.7,372.8 166.5,372.6 167.3,372.3 168.3,372.1 188.4,367.1 189.4,366.9 190.2,366.7 191.0,366.5 191.8,366.3 192.5,366.1 193.3,365.9 194.1,365.7 194.8,365.6 195.6,365.4 196.3,365.2 197.2,365.0 198.2,364.8 222.0,359.5 223.0,359.3 223.9,359.1 224.6,358.9 225.4,358.7 226.1,358.6 226.9,358.4 227.7,358.2 228.4,358.0 229.2,357.9 230.0,357.7 230.8,357.5 231.8,357.3 250.0,353.0 251.0,352.8 251.8,352.6 252.6,352.4 253.4,352.2 254.1,352.1 254.9,351.9 255.7,351.8 256.5,351.6 257.2,351.5 258.0,351.4 258.9,351.2 259.8,351.1 277.9,348.0 278.8,347.9 279.6,347.8 280.4,347.7 281.1,347.6 281.9,347.4 282.8,347.2 295.0,341.6 309.0,349.0 309.9,349.1 310.7,349.1 311.5,349.0 312.2,348.9 313.1,348.7 314.0,348.6 328.2,347.6 329.1,347.5 330.0,347.5 330.7,347.5 331.5,347.4 332.3,347.4 333.2,347.2 346.3,341.6 347.2,341.4 348.0,341.3 348.7,341.2 349.5,341.1 350.3,341.0 351.2,340.8 365.6,338.7 366.5,338.5 367.3,338.4 368.1,338.3 368.8,338.2 369.6,338.1 370.5,337.9 371.9,337.5 373.4,337.1 375.0,336.7 376.6,336.2 378.3,335.7 380.0,335.3 394.9,332.1 409.9,329.7 424.8,325.0 436.0,315.3 436.7,315.5 437.4,316.0 438.0,316.6 438.6,317.2 439.2,317.9 439.9,318.5 440.8,319.3 441.9,320.2 443.0,321.1 444.1,322.0 445.2,322.9 446.1,323.7 446.8,324.3 447.4,325.0 448.0,325.6 448.7,326.2 449.3,326.6 450.0,326.9 451.2,326.6 452.5,326.0 453.9,325.1 455.2,324.2 456.4,323.2 457.4,322.2 457.7,321.5 458.0,320.7 458.1,319.9 458.2,319.1 458.3,318.2 458.5,317.3 458.9,315.7 459.3,313.9 459.7,311.9 460.2,310.0 460.6,308.2 461.0,306.6 461.2,305.7 461.3,304.8 461.4,304.0 461.6,303.2 461.8,302.5 462.1,301.7 462.7,300.8 463.5,299.8 464.3,298.9 465.1,298.0 466.0,297.4 466.8,297.0 467.6,297.3 468.4,297.9 469.1,298.7 469.9,299.7 470.7,300.7 471.4,301.7 477.0,315.7 477.3,316.6 477.6,317.4 477.8,318.1 478.1,318.8 478.3,319.6 478.6,320.4 482.9,333.3 483.2,334.1 483.4,334.9 483.7,335.7 483.9,336.4 484.2,337.2 484.5,338.0 485.1,339.3 485.8,340.8 486.6,342.3 487.4,343.7 488.2,344.8 489.1,345.5 490.0,345.3 491.0,344.9 492.1,344.2 493.1,343.4 494.0,342.6 494.7,341.8 495.0,341.1 495.2,340.3 495.3,339.5 495.3,338.7 495.4,337.8 495.5,336.9 495.9,335.0 496.2,332.8 496.6,330.6 497.0,328.4 497.3,326.2 497.7,324.3 497.8,323.4 498.0,322.6 498.1,321.8 498.3,321.0 498.4,320.2 498.5,319.4 498.6,318.6 498.6,317.9 498.7,317.1 498.7,316.3 498.8,315.4 498.8,314.4 501.0,279.6 501.1,278.6 501.1,277.7 501.1,276.9 501.2,276.1 501.2,275.4 501.3,274.6 501.4,273.8 501.5,273.0 501.6,272.2 501.6,271.4 501.7,270.6 501.9,269.6 503.5,254.4 503.6,253.4 503.7,252.5 503.7,251.7 503.8,250.9 503.9,250.1 504.1,249.4 504.4,248.8 504.8,248.2 505.2,247.6 505.7,247.1 506.1,246.7 506.5,246.5 507.1,247.2 507.7,248.3 508.3,249.7 508.8,251.2 509.3,252.8 509.7,254.1 509.8,254.9 509.9,255.7 510.0,256.4 510.0,257.2 510.0,258.1 510.1,259.1 512.1,288.3 512.2,289.3 512.3,290.2 512.3,291.0 512.4,291.8 512.4,292.5 512.5,293.3 512.6,294.1 512.6,294.8 512.7,295.6 512.7,296.4 512.8,297.3 512.9,298.3 515.8,334.9 515.9,335.9 516.0,336.8 516.0,337.6 516.1,338.4 516.1,339.1 516.2,339.9 516.3,340.7 516.4,341.4 516.5,342.2 516.6,343.0 516.7,343.9 516.8,344.9 520.3,372.2 520.4,373.2 520.5,374.1 520.6,374.9 520.7,375.7 520.8,376.4 520.9,377.2 521.0,378.0 521.2,378.8 521.4,379.6 521.5,380.4 521.7,381.2 521.9,382.1 522.1,383.5 522.4,385.0 522.8,386.6 523.1,388.1 523.4,389.6 523.6,391.0 523.8,391.9 523.9,392.7 524.0,393.5 524.2,394.2 524.4,395.0 524.6,395.9 525.2,397.4 525.9,399.0 526.7,400.7 527.5,402.3 528.4,403.8 529.3,405.2 530.2,406.0 531.1,406.8 532.0,407.4 533.0,408.1 533.9,408.6 534.9,409.0 535.7,409.1 536.5,409.2 537.2,409.1 538.0,409.0 538.9,409.0 539.9,408.9 561.6,408.7 562.6,408.7 563.5,408.6 564.3,408.6 565.0,408.6 565.8,408.6 566.6,408.6 567.4,408.6 568.2,408.5 568.9,408.5 569.7,408.4 570.6,408.3 571.6,408.3 598.9,406.5 599.9,406.5 600.8,406.4 601.6,406.4 602.3,406.3 603.1,406.3 603.9,406.2 604.7,406.1 605.5,406.1 606.3,406.0 607.1,406.0 607.9,405.9 608.9,405.8 625.0,404.7 626.0,404.6 626.9,404.6 627.7,404.6 628.5,404.5 629.2,404.4 630.0,404.3 630.6,404.0 631.2,403.7 631.8,403.3 632.3,403.0 633.0,402.7 633.7,402.4 648.5,403.1 660.4,409.9 661.6,409.7 662.8,409.3 663.9,408.8 665.0,408.1 666.1,407.4 667.1,406.5 673.1,392.9 673.9,392.2 674.7,391.7 675.6,391.2 676.4,390.8 677.3,390.5 678.2,390.4 679.4,390.7 680.7,391.2 682.1,391.9 683.4,392.7 684.7,393.6 685.8,394.6 690.9,408.2 691.1,409.1 691.3,409.9 691.4,410.6 691.5,411.3 691.7,412.2 691.8,413.1 695.9,433.8 696.0,434.8 696.2,435.6 696.3,436.4 696.5,437.2 696.6,437.9 696.8,438.7 697.0,439.5 697.1,440.2 697.3,441.0 697.5,441.8 697.7,442.6 697.9,443.6 702.5,464.4 702.7,465.4 702.9,466.2 703.0,466.9 703.2,467.6 703.4,468.4 703.6,469.3 707.8,483.7 708.3,483.7 708.9,483.6 709.5,483.4 710.1,483.0 710.7,482.5 711.2,482.0 713.0,452.3 713.3,333.0 714.6,331.0 714.6,173.0 717.3,171.0 717.4,142.0 719.0,124.2 721.8,142.0 721.9,243.0 725.2,245.0 725.2,404.0 727.3,406.0 727.3,489.6 729.9,503.2 730.8,504.6 731.9,506.0 733.1,507.3 734.3,508.5 735.5,509.5 736.7,510.3 737.5,510.5 738.3,510.5 739.0,510.5 739.9,510.4 740.7,510.3 741.7,510.3 760.5,510.3 761.5,510.3 762.3,510.4 763.2,510.4 763.9,510.4 764.7,510.4 765.5,510.3 766.4,510.0 767.2,509.6 768.1,509.2 768.9,508.8 769.8,508.5 770.6,508.3 771.5,508.5 772.3,508.9 773.2,509.4 774.1,509.9 774.9,510.4 775.7,510.8 776.3,511.0 776.8,511.2 777.4,511.4 777.9,511.6 778.5,511.7 779.0,511.7 779.6,511.4 780.1,511.0 780.7,510.5 781.3,509.9 781.9,509.5 782.5,509.1 783.2,509.0 784.0,509.0 784.7,509.0 785.5,509.1 786.5,509.1 787.5,509.2 823.3,509.5 824.3,509.6 825.3,509.6 826.1,509.7 826.8,509.7 827.6,509.7 828.3,509.6 828.9,509.3 829.5,508.9 830.0,508.5 830.5,508.1 831.1,507.7 831.7,507.4 832.4,507.3 833.2,507.3 834.0,507.4 834.8,507.5 835.7,507.6 836.7,507.7 855.0,508.6 856.0,508.7 856.8,508.7 857.7,508.8 858.4,508.8 859.2,508.9 860.0,508.9 860.8,508.9 861.6,508.9 862.4,508.9 863.3,508.8 864.1,508.8 865.0,508.8 866.4,508.7 867.9,508.7 869.4,508.7 871.0,508.6 872.5,508.6 873.9,508.5 874.8,508.5 875.7,508.6 876.5,508.6 877.3,508.6 878.1,508.5 878.9,508.4 879.7,508.0 880.5,507.4 881.2,506.7 882.0,506.1 882.8,505.6 883.6,505.3 884.7,505.7 885.9,506.3 887.1,507.2 888.3,508.1 889.5,508.9 890.7,509.4 891.9,509.4 893.1,509.4 894.3,509.2 895.5,508.9 896.7,508.7 897.8,508.4 898.6,508.2 899.4,507.9 900.2,507.6 900.9,507.3 901.7,507.0 902.5,506.7 903.5,506.4 904.5,506.1 905.5,505.7 906.5,505.3 907.5,505.0 908.5,504.7 909.3,504.3 910.0,504.0 910.8,503.6 911.6,503.3 912.3,503.1 913.2,503.0 914.8,503.5 916.5,504.4 918.3,505.5 920.1,506.7 921.9,507.8 923.8,508.9 936.8,514.8 941.5,501.8 941.7,500.9 941.9,500.1 942.0,499.3 942.1,498.5 942.3,497.8 942.4,496.9 942.7,495.5 943.0,493.9 943.3,492.3 943.6,490.8 943.9,489.2 944.2,487.8 944.3,486.9 944.4,486.0 944.5,485.2 944.7,484.4 944.8,483.6 945.1,482.9 945.5,482.3 946.0,481.7 946.5,481.1 947.0,480.6 947.6,480.2 948.1,480.0 948.8,480.7 949.6,481.8 950.3,483.2 951.0,484.8 951.7,486.3 952.2,487.6 952.4,488.4 952.5,489.2 952.6,490.0 952.7,490.8 952.8,491.6 952.9,492.5 955.0,506.3 955.1,507.2 955.2,508.0 955.3,508.8 955.3,509.6 955.5,510.4 955.7,511.2 956.1,512.2 956.7,513.4 957.2,514.5 957.9,515.6 958.6,516.5 959.3,517.2 960.0,517.4 960.8,517.5 961.6,517.4 962.4,517.3 963.3,517.2 964.3,517.2 982.6,517.2 983.6,517.2 984.5,517.3 985.4,517.4 986.2,517.4 987.0,517.3 987.6,517.2 987.9,517.0 988.0,516.7 988.2,516.4 988.4,516.0 988.5,515.7 988.8,515.5 989.4,515.4 990.1,515.3 990.9,515.3 991.7,515.4 992.7,515.5 993.8,515.5 1044.0,515.3 1045.1,515.3 1046.0,515.4 1046.8,515.4 1047.6,515.4 1048.3,515.4 1049.0,515.3 1049.4,515.1 1049.8,514.8 1050.2,514.4 1050.6,514.1 1051.0,513.8 1051.4,513.6 1052.1,513.5 1052.8,513.5 1053.6,513.5 1054.4,513.5 1055.3,513.6 1056.4,513.6 1105.5,513.6 1106.6,513.6 1107.5,513.7 1108.3,513.7 1109.1,513.8 1109.8,513.7 1110.5,513.6 1111.0,513.3 1111.3,512.9 1111.7,512.4 1112.1,511.9 1112.4,511.5 1112.9,511.2 1113.6,511.1 1114.4,511.0 1115.2,511.0 1116.0,511.1 1116.9,511.1 1117.9,511.1 1133.9,510.9 1134.9,510.9 1135.7,510.9 1136.5,510.9 1137.3,510.9 1138.1,510.9 1138.9,510.8 1139.7,510.5 1140.5,510.1 1141.3,509.7 1142.1,509.3 1142.8,509.0 1143.6,508.9 1144.4,509.2 1145.1,509.6 1145.8,510.2 1146.6,510.8 1147.4,511.3 1148.3,511.7 1150.1,511.9 1152.1,511.9 1154.2,511.8 1156.3,511.7 1158.3,511.4 1160.1,511.2 1161.0,510.9 1161.8,510.6 1162.6,510.3 1163.4,509.9 1164.1,509.6 1164.9,509.4 1165.7,509.3 1166.5,509.3 1167.2,509.3 1168.1,509.3 1168.9,509.3 1169.9,509.3 1188.2,509.0 1189.2,509.0 1190.0,509.0 1190.8,509.0 1191.6,509.0 1192.4,508.9 1193.2,508.9 1194.0,508.8 1194.8,508.7 1195.7,508.6 1196.5,508.5 1197.3,508.4 1198.2,508.3 1199.2,508.2 1200.3,508.1 1201.5,507.9 1202.6,507.8 1203.7,507.7 1204.7,507.6 1205.6,507.5 1206.4,507.4 1207.3,507.3 1208.1,507.2 1208.9,507.1 1209.7,507.0 1210.5,506.8 1211.3,506.5 1212.1,506.1 1212.9,505.8 1213.7,505.5 1214.5,505.3 1215.3,505.2 1216.1,505.1 1216.9,505.1 1217.7,505.1 1218.6,505.0 1219.5,505.0 1220.9,504.9 1222.4,504.8 1224.0,504.8 1225.5,504.7 1227.0,504.6 1228.4,504.5 1229.3,504.4 1230.2,504.3 1231.0,504.2 1231.9,504.1 1232.6,504.1 1233.4,504.2 1234.0,504.5 1234.5,504.8 1235.0,505.2 1235.5,505.6 1236.0,505.9 1236.5,506.0 1236.9,505.7 1237.3,505.2 1237.7,504.6 1238.0,504.0 1238.4,503.4 1238.9,503.0 1239.6,502.8 1240.4,502.8 1241.3,502.8 1242.1,502.9 1243.0,503.0 1243.9,503.0 1245.0,503.0 1246.0,503.0 1247.1,503.0 1248.3,503.0 1249.3,503.0 1250.4,503.0 1251.2,503.0 1252.0,503.0 1252.8,503.1 1253.6,503.1 1254.5,503.1 1255.4,503.0 1257.2,502.6 1259.1,502.0 1261.1,501.3 1263.2,500.7 1265.3,500.2 1267.3,499.9 1269.3,500.1 1271.4,500.4 1273.4,500.9 1275.4,501.5 1277.3,502.2 1279.1,503.0 1280.5,504.1 1281.7,505.4 1282.8,506.8 1283.9,508.2 1285.1,509.7 1286.2,511.2 1294.4,523.1 1295.2,522.0 1295.9,520.2 1296.6,518.0 1297.1,515.5 1297.6,513.2 1298.0,511.2 1298.1,510.3 1298.2,509.5 1298.2,508.8 1298.2,508.0 1298.3,507.2 1298.3,506.2 1300.0,480.8 1300.0,479.8 1300.0,479.0 1300.0,478.2 1300.1,477.4 1300.1,476.7 1300.3,475.8 1301.0,473.9 1301.9,471.7 1302.9,469.4 1304.0,467.2 1305.2,465.5 1306.3,464.5 1307.4,465.0 1308.7,466.0 1309.9,467.4 1311.1,469.0 1312.3,470.7 1313.3,472.3 1316.9,487.6 1317.0,488.5 1317.1,489.3 1317.1,490.0 1317.2,490.8 1317.2,491.6 1317.3,492.6 1318.9,515.7 1319.0,516.7 1319.0,517.5 1319.1,518.3 1319.1,519.0 1319.2,519.8 1319.3,520.7 1322.8,534.9 1323.3,535.3 1323.9,535.6 1324.5,535.7 1325.1,535.9 1325.7,536.0 1326.3,536.1 1327.0,536.2 1327.8,536.2 1328.5,536.2 1329.3,536.1 1330.2,536.1 1331.3,536.1 1378.1,536.1 1379.2,536.1 1380.1,536.2 1380.9,536.2 1381.6,536.3 1382.3,536.2 1383.1,536.1 1383.9,535.7 1384.7,535.1 1385.5,534.4 1386.3,533.8 1387.0,533.3 1387.8,533.0 1388.6,533.3 1389.3,533.8 1390.1,534.4 1390.9,535.1 1391.7,535.7 1392.5,536.1 1393.3,536.2 1394.0,536.3 1394.7,536.2 1395.5,536.2 1396.4,536.1 1397.5,536.1 1472.6,536.1 1473.7,536.1 1474.6,536.2 1475.4,536.2 1476.1,536.3 1476.8,536.2 1477.6,536.1 1478.4,535.6 1479.2,534.9 1480.0,534.2 1480.7,533.5 1481.5,532.9 1482.3,532.5 1483.1,532.7 1483.9,533.0 1484.6,533.4 1485.4,533.9 1486.2,534.5 1487.0,534.9 1487.8,535.3 1488.6,535.7 1489.3,536.2 1490.1,536.6 1490.9,536.9 1491.8,537.2 1493.1,537.2 1494.5,537.1 1495.9,536.9 1497.3,536.6 1498.7,536.4 1500.0,536.2 1500.8,536.2 1501.6,536.1 1502.3,536.1 1503.0,536.2 1503.9,536.2 1505.0,536.1 1581.0,535.4 1582.1,535.3 1583.0,535.3 1583.8,535.3 1584.5,535.3 1585.2,535.3 1586.0,535.3"/>
<text class="lbl" transform="translate(173.6,282.6) scale(0.975,1)" font-size="67" fill="#000">O KLL</text>
<text class="lbl" transform="translate(433.0,197.8) scale(0.967,1)" font-size="67" fill="#000">F KLL</text>
<text class="lbl" transform="translate(733,171.4) scale(0.957,1)" font-size="67" fill="#000">F 1s</text>
<text class="lbl" transform="translate(888.8,422.2) scale(0.973,1)" font-size="67" fill="#000">O 1s</text>
<text class="lbl" transform="translate(1226.6,422.2) scale(0.976,1)" font-size="67" fill="#000">C 1s</text>
<text class="lbl" transform="translate(1434.1,482.2) scale(1.035,1)" font-size="80" fill="#ed7d31">(c)</text>
<text class="lbl" transform="translate(1429.7,768.8) scale(1.035,1)" font-size="79" fill="#00b050">(b)</text>
<text class="lbl" transform="translate(1430.2,1054.6) scale(1.025,1)" font-size="80" fill="#002060">(a)</text>
<text class="lbl" fill="#000" text-anchor="middle" transform="translate(264.1,1290) scale(1.02,1)" font-size="56">1000</text>
<text class="lbl" fill="#000" text-anchor="middle" transform="translate(555.6,1290) scale(1.01,1)" font-size="56">800</text>
<text class="lbl" fill="#000" text-anchor="middle" transform="translate(851,1290) scale(1.01,1)" font-size="56">600</text>
<text class="lbl" fill="#000" text-anchor="middle" transform="translate(1145.2,1290) scale(1.01,1)" font-size="56">400</text>
<text class="lbl" fill="#000" text-anchor="middle" transform="translate(1438.4,1290) scale(1.03,1)" font-size="56">200</text>
<text class="lbl" fill="#000" transform="translate(579.3,1390.3) scale(1.007,1)" font-size="61.5">Binding Energy (eV)</text>
<text class="lbl" transform="translate(55,826.5) rotate(-90) scale(1,1)" font-size="62">Intensity (a.u.)</text>
</svg>
</body>
</html>
